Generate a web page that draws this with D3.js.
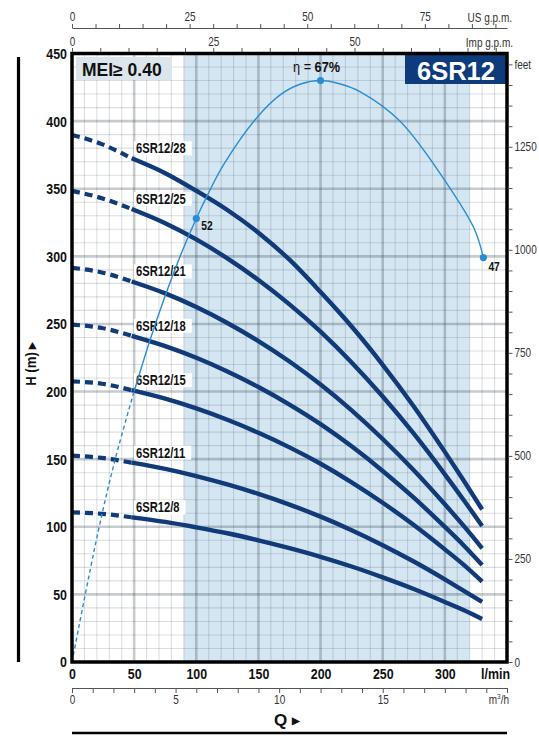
<!DOCTYPE html>
<html>
<head>
<meta charset="utf-8">
<script src="https://cdn.jsdelivr.net/npm/d3@7/dist/d3.min.js"></script>
<style>
  html, body { margin: 0; padding: 0; background: #fff; }
  svg { display: block; }
</style>
</head>
<body>
<svg id="chart" width="539" height="741"></svg>
<script>
// ---------------- data ----------------
const flowQ = [0, 24, 48, 75, 100, 125, 150, 175, 200, 225, 250, 275, 300, 315, 330]; // l/min
const curveNames = ["6SR12/28", "6SR12/25", "6SR12/21", "6SR12/18", "6SR12/15", "6SR12/11", "6SR12/8"];
const head28 = [389.8, 383.0, 372.5, 361.5, 348.5, 334.3, 317.5, 297.5, 273.6, 248.1, 219.8, 189.0, 155.4, 134.4, 112.8];
const head25 = [348.4, 343.0, 335.0, 324.5, 312.5, 298.5, 282.5, 264.5, 244.3, 221.5, 196.3, 168.8, 138.8, 120.0, 100.5];
const head21 = [291.5, 288.1, 281.4, 272.6, 262.5, 250.7, 237.3, 222.2, 205.2, 186.1, 164.9, 141.8, 116.6, 100.8, 84.1];
const head18 = [249.5, 247.0, 241.2, 233.6, 225.0, 214.9, 203.4, 190.4, 175.9, 159.5, 141.3, 121.5, 99.9, 86.4, 71.8];
const head15 = [207.5, 205.8, 201.0, 194.7, 187.5, 179.1, 169.5, 158.7, 146.6, 132.9, 117.8, 101.3, 83.3, 72.0, 59.5];
const head11 = [152.6, 150.9, 147.4, 142.8, 137.5, 131.3, 124.3, 116.4, 107.5, 97.5, 86.4, 74.3, 61.1, 52.8, 44.5];
const head8  = [110.6, 109.6, 107.0, 103.6, 99.6, 95.2, 90.0, 84.2, 77.8, 70.6, 62.6, 54.0, 44.4, 38.4, 31.8];
const dashEndQ = 48;

const effQ   = [0, 21, 35, 50, 63, 74, 88, 100, 109, 122, 148, 168, 184, 200, 216, 232, 264, 305, 324, 331];
const effPct = [0, 15.0, 23.5, 31.2, 37.2, 41.8, 47.1, 51.1, 53.8, 57.3, 62.6, 65.4, 66.6, 67.0, 66.6, 65.7, 62.3, 54.4, 49.8, 46.6];
const effDashEndQ = 50;
const effMarkQ = [100, 200, 331];
const effMarkLabels = ["52", "67%", "47"];

const bestRange = [90, 320]; // shaded range, l/min
const hTicks = [0, 50, 100, 150, 200, 250, 300, 350, 400, 450];
const qTicks = [0, 50, 100, 150, 200, 250, 300];
const m3Labels = [0, 5, 10, 15];
const usLabels = [0, 25, 50, 75];
const impLabels = [0, 25, 50];
const feetLabels = [0, 250, 500, 750, 1000, 1250];

// ---------------- scales ----------------
const svg = d3.select("#chart");
const L = 72, R = 507, T = 53.5, B = 662;
const x = d3.scaleLinear().domain([0, 350]).range([L, R]);
const y = d3.scaleLinear().domain([0, 450]).range([B, T]);
const xm3 = d3.scaleLinear().domain([0, 21]).range([L, R]);
const xus = d3.scaleLinear().domain([0, 350 / 3.7854]).range([L, R]);
const ximp = d3.scaleLinear().domain([0, 350 / 4.5461]).range([L, R]);
const yft = d3.scaleLinear().domain([0, 450 / 0.3048]).range([B, T]);
const etaH = d3.scaleLinear().domain([0, 67]).range([0, 430]);

const FF = '"Liberation Sans", Arial, sans-serif';

// helper: horizontally condensed text (scale about the text's x anchor)
function condense(sel, f) {
  sel.each(function () {
    const ax = +(this.getAttribute("x") || 0);
    const prev = this.getAttribute("transform") || "";
    this.setAttribute("transform", `${prev} translate(${ax},0) scale(${f},1) translate(${-ax},0)`);
  });
}

svg.append("rect").attr("width", 539).attr("height", 741).attr("fill", "#fff");

// shaded best-efficiency area
svg.append("rect")
  .attr("x", x(bestRange[0])).attr("y", T)
  .attr("width", x(bestRange[1]) - x(bestRange[0])).attr("height", B - T)
  .attr("fill", "#d4e6f2");

// grid
const grid = svg.append("g");
d3.range(10, 350, 10).forEach(v => {
  const major = v % 50 === 0;
  grid.append("line").attr("x1", x(v)).attr("x2", x(v)).attr("y1", T).attr("y2", B)
    .attr("stroke", major ? "rgba(40,55,70,0.26)" : "rgba(40,55,70,0.16)")
    .attr("stroke-width", major ? 2.6 : 1.1);
});
d3.range(10, 450, 10).forEach(v => {
  const major = v % 50 === 0;
  grid.append("line").attr("x1", L).attr("x2", R).attr("y1", y(v)).attr("y2", y(v))
    .attr("stroke", major ? "rgba(40,55,70,0.26)" : "rgba(40,55,70,0.16)")
    .attr("stroke-width", major ? 2.6 : 1.1);
});

// MEI box
svg.append("rect").attr("x", 76).attr("y", 57).attr("width", 96).attr("height", 23).attr("fill", "#dde5ec");
svg.append("text").attr("x", 82).attr("y", 76).attr("font-family", FF)
  .attr("font-weight", "bold").attr("font-size", 17.5).attr("fill", "#111").text("MEI\u2265 0.40");

// title box
svg.append("rect").attr("x", 405).attr("y", 54).attr("width", R - 405).attr("height", 30).attr("fill", "#0d3b7c");
svg.append("text").attr("x", 456).attr("y", 80).attr("text-anchor", "middle")
  .attr("font-family", FF).attr("font-weight", "bold")
  .attr("font-size", 25.5).attr("fill", "#fff").text("6SR12");

// pump curves
const allHeads = [head28, head25, head21, head18, head15, head11, head8];
const curveColor = "#103a78";
const line = d3.line().x(d => x(d[0])).y(d => y(d[1])).curve(d3.curveMonotoneX);
const labelG = svg.append("g");
allHeads.forEach((arr, i) => {
  const pts = flowQ.map((q, k) => [q, arr[k]]);
  const dashPts = pts.filter(p => p[0] <= dashEndQ);
  const solidPts = pts.filter(p => p[0] >= dashEndQ);
  svg.append("path").attr("d", line(dashPts)).attr("fill", "none")
    .attr("stroke", curveColor).attr("stroke-width", 4.2).attr("stroke-dasharray", "8,5");
  svg.append("path").attr("d", line(solidPts)).attr("fill", "none")
    .attr("stroke", curveColor).attr("stroke-width", 4.4).attr("stroke-linecap", "butt");
  // label
  const yStart = y(arr[flowQ.indexOf(dashEndQ)]);
  const cy = yStart - 10;
  const t = labelG.append("text").attr("x", 136).attr("y", cy + 5)
    .attr("font-family", FF).attr("font-weight", "bold").attr("font-size", 14).attr("fill", "#111")
    .text(curveNames[i]);
  const w = t.node().getComputedTextLength() * 0.8;
  condense(t, 0.8);
  labelG.insert("rect", "text").attr("x", 134).attr("y", cy - 7)
    .attr("width", w + 8).attr("height", 14).attr("fill", "#fff");
});
labelG.raise();

// efficiency curve
const effColor = "#2a8dd3";
const effLine = d3.line().x(d => x(d[0])).y(d => y(etaH(d[1]))).curve(d3.curveCatmullRom.alpha(0.5));
const effPts = effQ.map((q, k) => [q, effPct[k]]);
svg.append("path").attr("d", effLine(effPts.filter(p => p[0] <= effDashEndQ))).attr("fill", "none")
  .attr("stroke", effColor).attr("stroke-width", 1.4).attr("stroke-dasharray", "4,3");
svg.append("path").attr("d", effLine(effPts.filter(p => p[0] >= effDashEndQ))).attr("fill", "none")
  .attr("stroke", effColor).attr("stroke-width", 1.4);
effMarkQ.forEach((q, i) => {
  const v = effPct[effQ.indexOf(q)];
  const px = x(q), py = y(etaH(v));
  svg.append("circle").attr("cx", px).attr("cy", py).attr("r", 3.6).attr("fill", effColor);
  if (i === 1) {
    const t = svg.append("text").attr("x", px - 4).attr("y", py - 9).attr("text-anchor", "middle")
      .attr("font-family", FF).attr("font-size", 15).attr("fill", "#111");
    t.append("tspan").text("\u03B7 = ");
    t.append("tspan").attr("font-weight", "bold").text(effMarkLabels[i]);
    condense(t, 0.85);
  } else {
    const t = svg.append("text").attr("x", px + 5).attr("y", py + (i === 0 ? 11 : 13))
      .attr("font-family", FF).attr("font-weight", "bold")
      .attr("font-size", 12.5).attr("fill", "#111").text(effMarkLabels[i]);
    condense(t, 0.82);
  }
});

// plot border
svg.append("rect").attr("x", L).attr("y", T).attr("width", R - L).attr("height", B - T)
  .attr("fill", "none").attr("stroke", "#000").attr("stroke-width", 3.5);

// left H labels
const hAx = svg.append("g").attr("transform", `translate(${L},0)`)
  .call(d3.axisLeft(y).tickValues(hTicks).tickSize(0).tickPadding(5).tickFormat(d3.format("d")));
hAx.select(".domain").remove();
hAx.selectAll("text").attr("font-family", FF).attr("font-weight", "bold").attr("font-size", 15.5).attr("fill", "#111");
condense(hAx.selectAll("text"), 0.8);

// bottom l/min labels
const qAx = svg.append("g").attr("transform", `translate(0,${B})`)
  .call(d3.axisBottom(x).tickValues(qTicks).tickSize(0).tickPadding(6).tickFormat(d3.format("d")));
qAx.select(".domain").remove();
qAx.selectAll("text").attr("font-family", FF).attr("font-weight", "bold").attr("font-size", 15.5).attr("fill", "#111");
condense(qAx.selectAll("text"), 0.8);
const lmin = svg.append("text").attr("x", 510).attr("y", 679).attr("text-anchor", "end")
  .attr("font-family", FF).attr("font-weight", "bold").attr("font-size", 15.5).attr("fill", "#111").text("l/min");
condense(lmin, 0.8);

// m3/h axis
const m3Ax = svg.append("g").attr("transform", "translate(0,688)")
  .call(d3.axisBottom(xm3).tickValues(d3.range(0, 22, 1)).tickSize(5).tickSizeOuter(0).tickPadding(2)
    .tickFormat(d => m3Labels.includes(d) ? d : ""));
m3Ax.select(".domain").attr("stroke", "#555").attr("stroke-width", 1.2);
m3Ax.selectAll("line").attr("stroke", "#555");
m3Ax.selectAll("text").attr("font-family", FF).attr("font-size", 12.5).attr("fill", "#333");
condense(m3Ax.selectAll("text"), 0.8);
const m3t = svg.append("text").attr("x", 509).attr("y", 704).attr("text-anchor", "end")
  .attr("font-family", FF).attr("font-size", 12.5).attr("fill", "#333");
m3t.append("tspan").text("m");
m3t.append("tspan").attr("font-size", 8).attr("dy", -5).text("3");
m3t.append("tspan").attr("dy", 5).text("/h");
condense(m3t, 0.8);

// US gpm axis
const usAx = svg.append("g").attr("transform", "translate(0,28)")
  .call(d3.axisTop(xus).tickValues(d3.range(0, 95, 5)).tickSize(4).tickSizeOuter(0).tickPadding(3)
    .tickFormat(d => usLabels.includes(d) ? d : ""));
usAx.select(".domain").attr("stroke", "#555").attr("stroke-width", 1.2);
usAx.selectAll("line").attr("stroke", "#555");
usAx.selectAll("text").attr("font-family", FF).attr("font-size", 12.5).attr("fill", "#333");
condense(usAx.selectAll("text"), 0.8);
const ust = svg.append("text").attr("x", 512).attr("y", 22).attr("text-anchor", "end")
  .attr("font-family", FF).attr("font-size", 12.5).attr("fill", "#333").text("US g.p.m.");
condense(ust, 0.8);

// Imp gpm axis
const impAx = svg.append("g").attr("transform", `translate(0,${T - 1.5})`)
  .call(d3.axisTop(ximp).tickValues(d3.range(0, 80, 5)).tickSize(4).tickSizeOuter(0).tickPadding(2)
    .tickFormat(d => impLabels.includes(d) ? d : ""));
impAx.select(".domain").remove();
impAx.selectAll("line").attr("stroke", "#555");
impAx.selectAll("text").attr("font-family", FF).attr("font-size", 12.5).attr("fill", "#333");
condense(impAx.selectAll("text"), 0.8);
const impt = svg.append("text").attr("x", 513).attr("y", 47).attr("text-anchor", "end")
  .attr("font-family", FF).attr("font-size", 12.5).attr("fill", "#333").text("Imp g.p.m.");
condense(impt, 0.8);

// feet axis
const ftAx = svg.append("g").attr("transform", `translate(${R + 1.5},0)`)
  .call(d3.axisRight(yft).tickValues(d3.range(0, 1500, 50)).tickSize(4).tickSizeOuter(0).tickPadding(2)
    .tickFormat(d => feetLabels.includes(d) ? d : (d === 1450 ? "feet" : "")));
ftAx.select(".domain").remove();
ftAx.selectAll("line").attr("stroke", "#555");
ftAx.selectAll("text").attr("font-family", FF).attr("font-size", 12.5).attr("fill", "#333");
condense(ftAx.selectAll("text"), 0.8);

// axis titles and bars
svg.append("line").attr("x1", 18.5).attr("x2", 18.5).attr("y1", 57).attr("y2", 662)
  .attr("stroke", "#000").attr("stroke-width", 3.2);
svg.append("line").attr("x1", L).attr("x2", R).attr("y1", 733).attr("y2", 733)
  .attr("stroke", "#000").attr("stroke-width", 2.6);
const hT = svg.append("text").attr("transform", "translate(36,364) rotate(-90)").attr("text-anchor", "middle")
  .attr("font-family", FF).attr("font-weight", "bold").attr("font-size", 15.5).attr("fill", "#111");
hT.append("tspan").text("H (m) ");
hT.append("tspan").attr("font-size", 10).attr("dy", -1).text("\u25B6");
condense(hT, 0.85);
const qT = svg.append("text").attr("x", 287).attr("y", 726).attr("text-anchor", "middle")
  .attr("font-family", FF).attr("font-weight", "bold").attr("font-size", 17).attr("fill", "#111");
qT.append("tspan").text("Q  ");
qT.append("tspan").attr("font-size", 10).attr("dy", -2).text("\u25B6");
</script>
</body>
</html>
